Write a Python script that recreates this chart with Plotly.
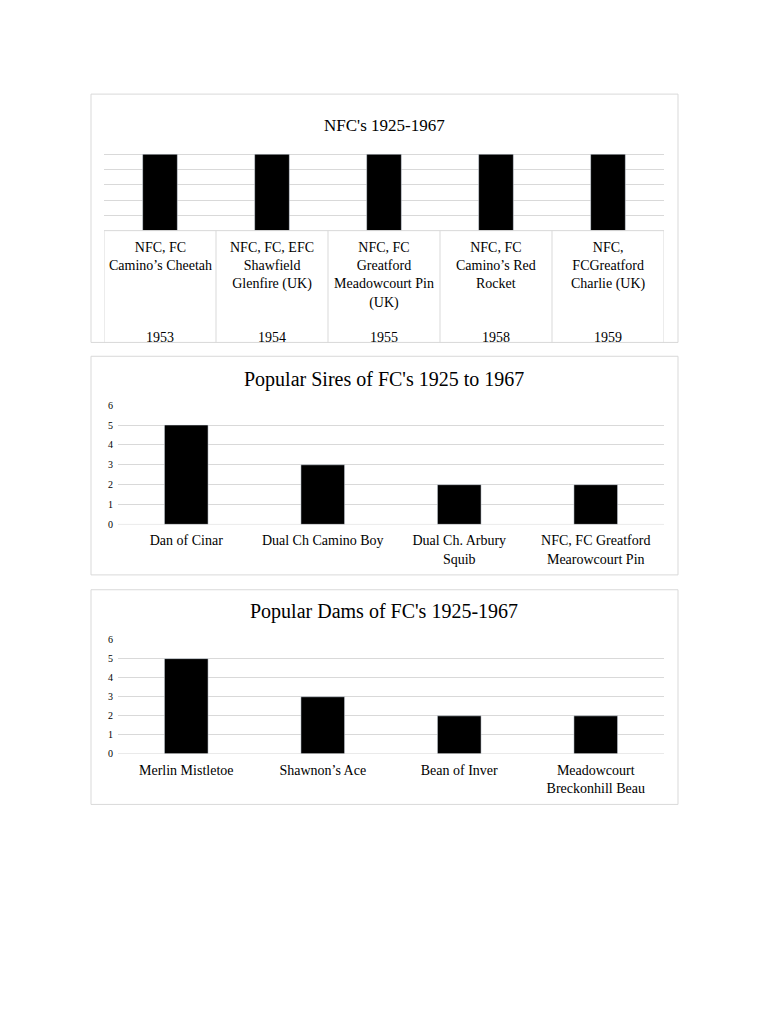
import plotly.graph_objects as go

nfc_names = ["NFC, FC<br>Camino’s Cheetah", "NFC, FC, EFC<br>Shawfield<br>Glenfire (UK)",
             "NFC, FC<br>Greatford<br>Meadowcourt Pin<br>(UK)", "NFC, FC<br>Camino’s Red<br>Rocket",
             "NFC,<br>FCGreatford<br>Charlie (UK)"]
nfc_years = ["1953", "1954", "1955", "1958", "1959"]
nfc_values = [5, 5, 5, 5, 5]

sires = ["Dan of Cinar", "Dual Ch Camino Boy", "Dual Ch. Arbury<br>Squib", "NFC, FC Greatford<br>Mearowcourt Pin"]
sire_counts = [5, 3, 2, 2]

dams = ["Merlin Mistletoe", "Shawnon’s Ace", "Bean of Inver", "Meadowcourt<br>Breckonhill Beau"]
dam_counts = [5, 3, 2, 2]

FONT = "Liberation Serif"
GRID = "#d9d9d9"


# page offset compensation (body margin)
def py(p):
    return 1 - (p - 12) / 1024


def px(p):
    return (p - 8) / 768


fig = go.Figure()
fig.add_bar(x=list(range(len(nfc_names))), y=nfc_values, marker_color="black", width=0.31,
            xaxis="x", yaxis="y")
fig.add_bar(x=sires, y=sire_counts, marker_color="black", width=0.32, xaxis="x2", yaxis="y2")
fig.add_bar(x=dams, y=dam_counts, marker_color="black", width=0.32, xaxis="x3", yaxis="y3")

fig.update_layout(
    width=768, height=1024, margin=dict(l=0, r=0, t=0, b=0),
    paper_bgcolor="white", plot_bgcolor="white", showlegend=False,
    font=dict(family=FONT, color="black", size=14),
    xaxis=dict(domain=[px(104), px(664)], range=[-0.5, 4.5], showticklabels=False,
               showgrid=False, zeroline=False),
    yaxis=dict(domain=[py(232), py(139)], range=[0, 6.02], dtick=1, showticklabels=False,
               gridcolor=GRID, zeroline=False),
    xaxis2=dict(domain=[px(118), px(664)], anchor="y2", showgrid=False,
                tickfont=dict(size=14), ticks="", ticklabelstandoff=6),
    yaxis2=dict(domain=[py(529), py(408)], anchor="x2", range=[0, 6.02], dtick=1,
                gridcolor=GRID, zeroline=False, tickfont=dict(size=10), ticklabelstandoff=4),
    xaxis3=dict(domain=[px(118), px(664)], anchor="y3", showgrid=False,
                tickfont=dict(size=14), ticks="", ticklabelstandoff=6),
    yaxis3=dict(domain=[py(761), py(645)], anchor="x3", range=[0, 6.02], dtick=1,
                gridcolor=GRID, zeroline=False, tickfont=dict(size=10), ticklabelstandoff=4),
)

shapes = []
for top, bottom in [(94, 345), (359, 580), (595, 812)]:
    shapes.append(dict(type="rect", xref="paper", yref="paper", x0=px(91), x1=px(678),
                       y0=py(bottom), y1=py(top), line=dict(color=GRID, width=1)))
# category boxes under chart 1
shapes.append(dict(type="line", xref="paper", yref="paper", x0=px(104), x1=px(664),
                   y0=py(232), y1=py(232), line=dict(color=GRID, width=1)))
for i in range(len(nfc_names) + 1):
    shapes.append(dict(type="line", xref="x", yref="paper", x0=i - 0.5, x1=i - 0.5,
                       y0=py(345), y1=py(232), line=dict(color=GRID, width=1)))
# baselines of charts 2 and 3
for ya in ["y2", "y3"]:
    shapes.append(dict(type="line", xref="paper", yref=ya, x0=px(118), x1=px(664),
                       y0=0, y1=0, line=dict(color=GRID, width=1)))

annotations = [
    dict(text="NFC's 1925-1967", xref="paper", yref="paper", x=px(384), y=py(114),
         showarrow=False, font=dict(size=17)),
    dict(text="Popular Sires of FC's 1925 to 1967", xref="paper", yref="paper", x=px(384),
         y=py(382), showarrow=False, font=dict(size=20)),
    dict(text="Popular Dams of FC's 1925-1967", xref="paper", yref="paper", x=px(384),
         y=py(617), showarrow=False, font=dict(size=20)),
]
for i, (name, year) in enumerate(zip(nfc_names, nfc_years)):
    annotations.append(dict(text=name, xref="x", yref="paper", x=i, y=py(239), yanchor="top",
                            showarrow=False, font=dict(size=14)))
    annotations.append(dict(text=year, xref="x", yref="paper", x=i, y=py(330),
                            showarrow=False, font=dict(size=14)))

fig.update_layout(shapes=shapes, annotations=annotations)
fig.write_html("out.html")
